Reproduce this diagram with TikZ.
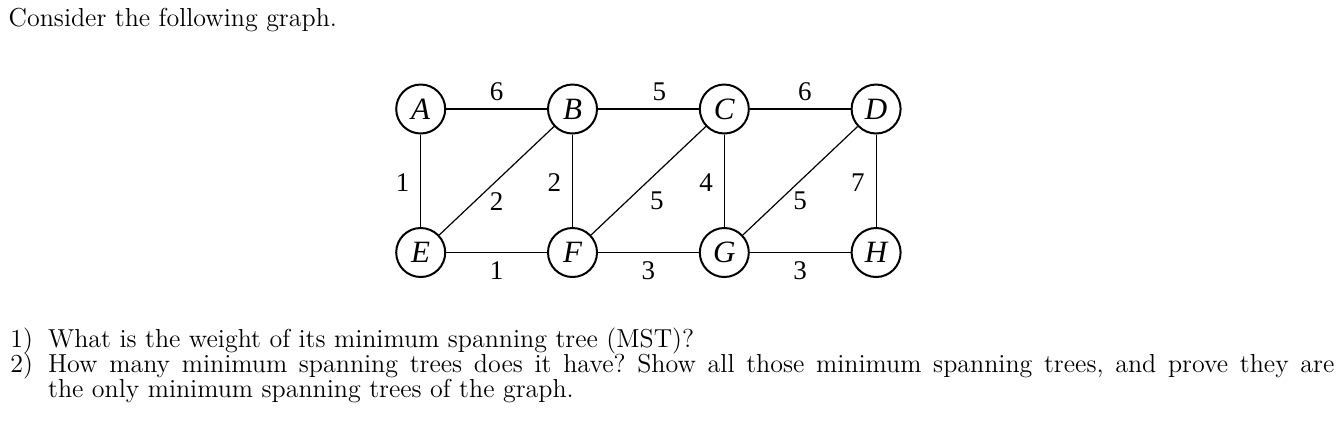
\documentclass[tikz,border=0pt]{standalone}
\usepackage{fontspec}
\newfontfamily\graphfont{Liberation Serif}
\frenchspacing

\begin{document}
\begin{tikzpicture}[x=0.5pt, y=-0.5pt, node distance=75.9pt]
        \tikzstyle{vertex} = [circle, draw, line width=1pt, minimum size=24.5pt, inner sep=0pt, font=\fontsize{15.5}{17}\graphfont\itshape]
        \tikzstyle{weight} = [inner sep=0pt, font=\fontsize{13.5}{15}\graphfont]
        \tikzstyle{edge} = [line width=0.6pt]
        \tikzstyle{txt} = [inner sep=0pt, anchor=base west, font=\fontsize{13}{15}\selectfont]
        \useasboundingbox (0,0) rectangle (1342,420);
        \node[txt] (intro) at (8.3,26.7) {Consider the following graph.};
        % vertices
        \node[vertex] (A) at (420.7,109) {A};
        \node[vertex, right of=A] (B) {B};
        \node[vertex, right of=B] (C) {C};
        \node[vertex, right of=C] (D) {D};
        \node[vertex, below of=A, node distance=71.75pt] (E) {E};
        \node[vertex, right of=E] (F) {F};
        \node[vertex, right of=F] (G) {G};
        \node[vertex, right of=G] (H) {H};
        % weighted edges
        \draw[edge] (A) -- node[weight, above=3.7pt] {6} (B);
        \draw[edge] (B) -- node[weight, above=3.7pt, xshift=5.5pt] {5} (C);
        \draw[edge] (C) -- node[weight, above=3.7pt, xshift=2.3pt] {6} (D);
        \draw[edge] (E) -- node[weight, below=4.2pt] {1} (F);
        \draw[edge] (F) -- node[weight, below=4.2pt] {3} (G);
        \draw[edge] (G) -- node[weight, below=4.2pt] {3} (H);
        \draw[edge] (A) -- node[weight, left=5.4pt, yshift=-0.75pt] {1} (E);
        \draw[edge] (B) -- node[weight, left=5.4pt, yshift=-0.75pt] {2} (F);
        \draw[edge] (C) -- node[weight, left=5.4pt, yshift=-0.75pt] {4} (G);
        \draw[edge] (D) -- node[weight, left=5.4pt, yshift=-0.75pt] {7} (H);
        \draw[edge] (E) -- node[weight, below=5.4pt] {2} (B);
        \draw[edge] (F) -- node[weight, below=5.4pt, xshift=4.25pt] {5} (C);
        \draw[edge] (G) -- node[weight, below=5.4pt] {5} (D);
        % questions
        \node[txt] (num1) at (10,347.7) {1)};
        \node[txt] (q1) at (47.7,347.7) {What is the weight of its minimum spanning tree (MST)?};
        \node[txt] (num2) at (10,372.3) {2)};
        \node[txt] (q2) at (47.7,372.3) {\makebox[643.15pt][s]{How many minimum spanning trees does it have? Show all those minimum spanning trees, and prove they are}};
        \node[txt] (q2b) at (47.7,397) {the only minimum spanning trees of the graph.};
    \end{tikzpicture}
\end{document}
